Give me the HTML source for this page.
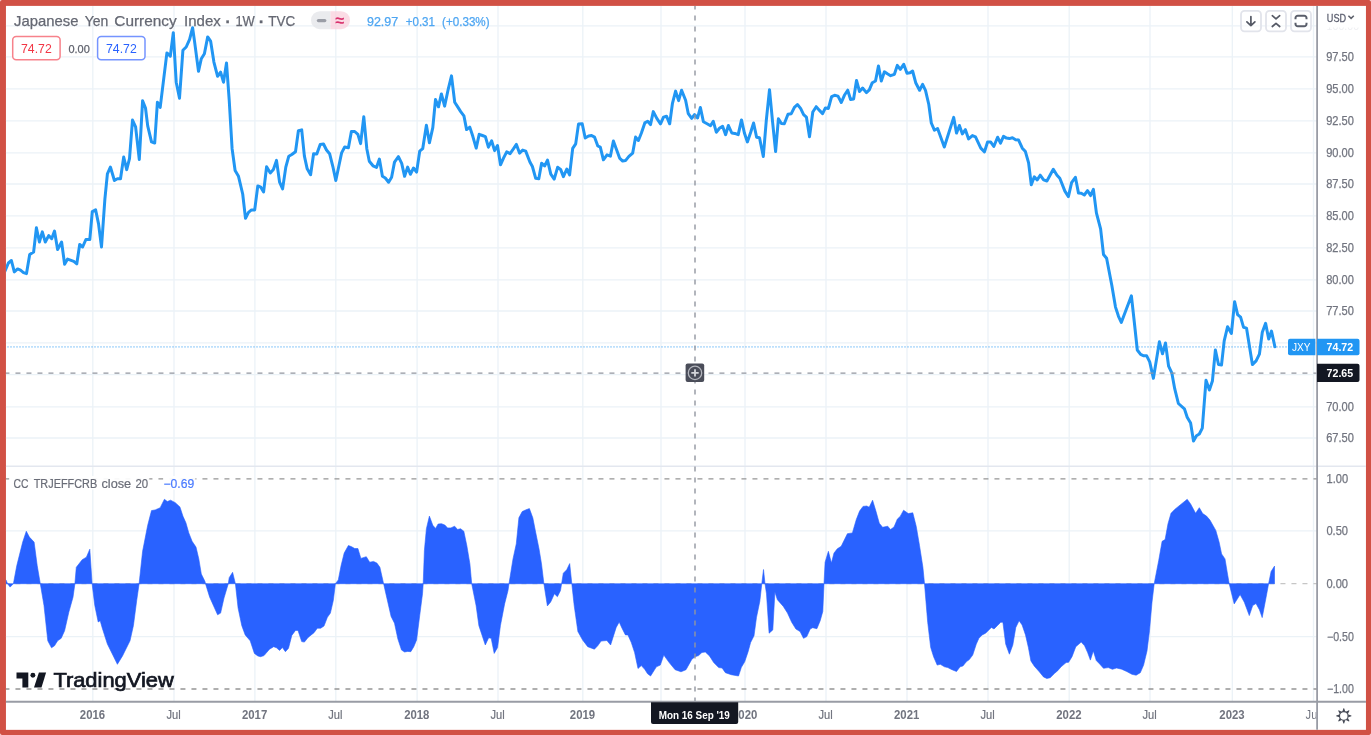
<!DOCTYPE html>
<html lang="en"><head><meta charset="utf-8"><title>Japanese Yen Currency Index</title>
<style>html,body{margin:0;padding:0;background:#fff;width:1371px;height:735px;overflow:hidden}</style>
</head><body>
<svg width="1371" height="735" viewBox="0 0 1371 735" style="display:block;font-family:'Liberation Sans', sans-serif">
<rect x="0" y="0" width="1371" height="735" rx="2" ry="2" fill="#d15145"/>
<rect x="5.95" y="5.9" width="1360.0" height="723.95" fill="#fff"/>
<g stroke="#ebf2f7" stroke-width="1.3" fill="none">
<line x1="92.8" y1="5.9" x2="92.8" y2="701.8"/>
<line x1="174" y1="5.9" x2="174" y2="701.8"/>
<line x1="254.9" y1="5.9" x2="254.9" y2="701.8"/>
<line x1="335.8" y1="5.9" x2="335.8" y2="701.8"/>
<line x1="417.1" y1="5.9" x2="417.1" y2="701.8"/>
<line x1="498" y1="5.9" x2="498" y2="701.8"/>
<line x1="582.8" y1="5.9" x2="582.8" y2="701.8"/>
<line x1="661" y1="5.9" x2="661" y2="701.8"/>
<line x1="745" y1="5.9" x2="745" y2="701.8"/>
<line x1="826" y1="5.9" x2="826" y2="701.8"/>
<line x1="907" y1="5.9" x2="907" y2="701.8"/>
<line x1="988" y1="5.9" x2="988" y2="701.8"/>
<line x1="1069.2" y1="5.9" x2="1069.2" y2="701.8"/>
<line x1="1150" y1="5.9" x2="1150" y2="701.8"/>
<line x1="1232.3" y1="5.9" x2="1232.3" y2="701.8"/>
<line x1="1313.5" y1="5.9" x2="1313.5" y2="701.8"/>
<line x1="5.95" y1="25.9" x2="1317.1" y2="25.9"/>
<line x1="5.95" y1="56.8" x2="1317.1" y2="56.8"/>
<line x1="5.95" y1="88.8" x2="1317.1" y2="88.8"/>
<line x1="5.95" y1="120.9" x2="1317.1" y2="120.9"/>
<line x1="5.95" y1="152.8" x2="1317.1" y2="152.8"/>
<line x1="5.95" y1="184.0" x2="1317.1" y2="184.0"/>
<line x1="5.95" y1="215.8" x2="1317.1" y2="215.8"/>
<line x1="5.95" y1="247.8" x2="1317.1" y2="247.8"/>
<line x1="5.95" y1="279.9" x2="1317.1" y2="279.9"/>
<line x1="5.95" y1="311.0" x2="1317.1" y2="311.0"/>
<line x1="5.95" y1="342.9" x2="1317.1" y2="342.9"/>
<line x1="5.95" y1="374.7" x2="1317.1" y2="374.7"/>
<line x1="5.95" y1="406.9" x2="1317.1" y2="406.9"/>
<line x1="5.95" y1="438.0" x2="1317.1" y2="438.0"/>
<line x1="5.95" y1="530.9" x2="1317.1" y2="530.9"/>
<line x1="5.95" y1="636.6" x2="1317.1" y2="636.6"/>
</g>
<line x1="5.95" y1="466.3" x2="1365.95" y2="466.3" stroke="#e3e7ef" stroke-width="1.4"/>
<g stroke="#959595" stroke-width="1.35" stroke-dasharray="5 6" stroke-dashoffset="1.5" fill="none">
<line x1="5.95" y1="478.8" x2="1317.1" y2="478.8"/>
<line x1="5.95" y1="689" x2="1317.1" y2="689"/>
</g>
<line x1="5.95" y1="583.7" x2="1317.1" y2="583.7" stroke="#c6c6c6" stroke-width="1.3" stroke-dasharray="5 6" stroke-dashoffset="1.5"/>
<clipPath id="pane"><rect x="5.95" y="5.9" width="1311.1499999999999" height="695.9"/></clipPath>
<path clip-path="url(#pane)" d="M2.95,583.7 L2.95,577 L6.0,579.9 L7.6,583.7 L10.1,587.1 L13.4,583.7 L16.8,565.6 L22.7,542.1 L26.3,531.2 L29.4,537.1 L34.1,542.1 L37.2,565.6 L40.3,583.7 L44.0,605.6 L47.8,640.8 L51.5,647.8 L54.5,645.8 L57.6,640.8 L61.2,638.3 L64.6,630.7 L68.8,612.3 L73.0,597.2 L74.9,583.7 L76.3,567.3 L82.2,559.7 L86.4,557.2 L89.8,549.2 L92.1,583.7 L94.8,605.6 L98.2,622.0 L100.2,620.7 L102.3,628.2 L107.4,644.1 L117.4,664.3 L122.5,655.9 L130.0,640.8 L133.4,625.7 L136.7,600.5 L139.1,583.7 L142.6,551.3 L147.7,525.3 L151.5,510.6 L155.2,509.9 L160.2,507.7 L164.4,499.3 L167.3,501.5 L170.6,500.2 L175.3,502.7 L179.9,506.9 L182.9,516.1 L185.9,522.8 L188.8,532.9 L192.1,541.3 L196.0,547.1 L198.8,558.9 L201.3,574.0 L205.0,581.5 L205.5,583.7 L209.7,597.2 L217.6,614.8 L220.6,613.1 L224.0,598.0 L226.7,589.0 L228.3,583.7 L229.2,577.7 L232.6,572.3 L235.4,583.7 L238.1,608.1 L241.8,625.7 L245.2,634.9 L250.2,640.8 L254.4,653.4 L257.8,655.9 L260.6,656.7 L264.0,655.6 L269.5,649.2 L273.7,646.7 L276.5,647.8 L279.6,650.4 L282.4,647.5 L285.4,651.7 L288.5,648.3 L291.8,635.4 L295.5,630.4 L298.0,630.4 L301.7,641.6 L304.4,642.1 L308.1,637.4 L314.0,632.7 L317.3,628.2 L320.7,628.2 L324.0,626.0 L327.4,617.3 L330.4,613.1 L333.3,600.5 L335.4,583.7 L338.3,579.9 L341.1,565.6 L344.2,553.0 L348.4,545.5 L351.7,546.8 L354.7,548.5 L357.9,548.5 L360.9,558.4 L366.3,556.7 L369.7,562.2 L373.5,561.4 L376.9,563.1 L379.9,567.3 L383.6,583.7 L391.1,616.5 L394.5,623.2 L397.9,639.1 L401.5,650.0 L404.6,652.0 L407.6,651.4 L410.8,651.7 L413.8,646.7 L416.6,640.0 L419.7,615.6 L422.5,593.8 L423.2,583.7 L424.4,550.5 L426.4,528.7 L429.4,516.1 L432.8,525.3 L435.6,528.4 L438.1,524.0 L441.5,523.7 L444.8,525.0 L447.6,527.9 L450.9,527.9 L454.6,526.2 L457.6,529.5 L460.5,528.7 L463.8,531.2 L466.8,545.5 L469.9,563.9 L471.7,583.7 L476.1,605.6 L478.9,625.7 L485.3,645.0 L488.7,637.8 L491.2,638.3 L494.2,653.4 L497.6,647.5 L500.4,625.7 L504.6,603.9 L508.0,590.5 L509.0,583.7 L513.0,558.9 L516.3,543.8 L518.9,517.8 L522.2,511.6 L525.6,509.9 L529.4,508.6 L532.8,517.8 L535.6,532.0 L539.0,548.8 L541.5,563.9 L543.9,583.7 L547.4,605.9 L550.7,601.9 L554.4,593.8 L557.4,596.7 L560.5,590.5 L561.6,583.7 L563.3,573.2 L566.7,569.8 L569.7,563.6 L571.8,583.7 L574.2,605.6 L577.9,631.6 L582.6,640.0 L587.7,646.7 L594.4,649.2 L597.7,645.8 L601.1,641.1 L606.9,640.5 L610.6,645.0 L616.2,627.4 L619.2,622.0 L622.0,628.2 L625.4,634.9 L627.9,634.9 L631.3,642.5 L634.6,652.5 L638.0,668.5 L641.3,665.6 L644.7,669.3 L647.6,673.8 L650.6,676.0 L656.4,666.8 L660.3,665.1 L663.8,655.1 L669.2,662.6 L675.1,669.7 L681.0,671.8 L686.0,669.7 L691.9,659.2 L695.2,656.7 L698.6,655.6 L701.9,652.5 L705.3,652.0 L709.5,655.9 L713.7,662.6 L718.7,667.6 L722.1,668.0 L725.4,672.7 L731.3,674.7 L738.5,676.0 L741.4,667.3 L744.7,661.8 L748.1,651.7 L750.6,642.5 L754.0,635.8 L756.5,617.3 L759.8,601.4 L761.8,583.7 L763.5,569.5 L765.0,583.7 L766.5,593.8 L769.1,633.2 L772.8,629.9 L774.9,592.1 L777.4,599.7 L783.3,606.4 L787.5,613.1 L791.7,622.3 L795.9,629.0 L800.1,631.6 L803.5,638.3 L806.8,636.6 L810.2,629.0 L812.7,627.7 L816.9,628.7 L820.2,620.7 L822.8,611.4 L824.0,583.7 L825.1,562.2 L828.4,551.3 L831.4,563.1 L834.0,553.0 L837.3,548.8 L841.2,546.3 L847.4,533.7 L852.4,532.9 L856.3,519.5 L859.6,511.1 L863.0,506.4 L866.7,506.0 L869.2,507.2 L872.6,500.2 L875.9,511.1 L879.3,523.2 L882.6,527.3 L887.7,526.2 L890.5,529.5 L894.0,527.0 L897.4,519.0 L900.2,516.4 L903.6,510.2 L908.3,513.6 L912.8,512.8 L916.2,526.2 L919.5,545.5 L922.9,567.3 L924.5,583.7 L927.7,622.3 L930.7,647.5 L933.6,656.7 L937.2,665.1 L940.3,664.3 L944.5,666.8 L947.8,667.6 L952.0,669.7 L956.5,671.5 L960.1,666.8 L962.9,666.0 L966.3,661.8 L969.3,659.6 L972.7,655.1 L976.3,644.1 L978.9,638.3 L982.2,634.9 L985.6,633.2 L991.4,627.4 L994.0,629.0 L997.3,625.7 L1000.7,622.3 L1002.9,622.3 L1005.7,644.1 L1009.4,654.2 L1012.8,645.0 L1015.8,627.4 L1019.1,620.7 L1022.1,624.9 L1025.5,634.9 L1028.4,647.5 L1030.9,660.9 L1034.2,666.0 L1039.3,671.8 L1043.5,676.9 L1046.8,678.5 L1050.2,677.7 L1054.4,673.5 L1057.7,670.7 L1061.1,666.8 L1066.1,662.6 L1068.6,662.3 L1072.0,656.7 L1075.8,646.7 L1081.2,642.1 L1084.6,645.8 L1087.6,652.5 L1090.4,660.1 L1093.3,650.9 L1096.3,660.6 L1099.7,664.0 L1103.5,668.3 L1108.3,667.6 L1112.4,669.3 L1116.6,668.0 L1121.7,669.2 L1126.7,671.5 L1131.9,674.3 L1136.1,675.2 L1140.3,672.7 L1143.6,665.1 L1147.0,650.9 L1149.5,630.7 L1152.0,602.2 L1154.2,583.7 L1158.7,560.6 L1162.1,541.3 L1165.1,539.6 L1168.0,523.7 L1171.0,513.3 L1174.7,509.4 L1187.2,499.3 L1190.6,503.9 L1195.6,513.3 L1199.3,507.7 L1202.7,513.6 L1206.5,516.1 L1209.9,520.0 L1215.8,530.4 L1219.1,542.1 L1221.6,553.9 L1225.0,558.9 L1227.5,574.0 L1229.2,583.7 L1234.2,603.9 L1240.1,594.6 L1244.3,602.2 L1249.3,615.6 L1252.7,605.6 L1256.0,603.5 L1259.4,609.7 L1262.2,617.6 L1266.1,597.2 L1268.6,583.7 L1271.1,571.5 L1274.5,566.1 L1274.5,583.7 Z" fill="#2962ff" stroke="#2962ff" stroke-width="0.6" stroke-linejoin="round"/>
<line x1="7.3" y1="346.95" x2="1288" y2="346.95" stroke="#2196f3" stroke-opacity="0.42" stroke-width="1.7" stroke-dasharray="1.4 1.6"/>
<polyline clip-path="url(#pane)" points="2.8,276.2 5.9,268.9 8.4,263.0 11.4,260.5 14.3,271.9 17.6,268.9 20.5,270.2 23.5,272.6 26.5,273.6 29.7,254.6 33.6,252.1 36.4,227.8 39.4,242.0 42.3,231.9 45.3,242.0 48.7,235.6 51.7,238.7 54.5,231.1 57.6,249.6 61.6,242.0 64.6,264.2 67.6,259.1 73.8,261.3 76.8,263.8 79.7,244.5 82.6,247.0 85.9,239.5 89.8,239.5 92.3,211.5 95.6,209.8 98.5,223.6 101.5,247.0 104.9,198.9 107.4,173.8 110.4,167.0 114.4,180.5 117.4,178.8 120.5,178.8 123.7,157.0 126.7,169.6 129.5,158.7 132.5,120.1 135.6,126.8 139.3,159.5 142.6,100.7 145.5,108.0 147.7,125.9 151.5,141.9 154.7,143.0 157.4,102.3 160.2,107.4 166.9,52.9 170.3,56.2 173.3,32.7 176.2,82.2 179.5,98.2 182.9,50.3 186.2,47.0 189.6,39.4 192.6,27.7 194.6,41.9 198.5,71.3 201.3,58.7 204.4,53.7 207.7,36.9 210.6,41.1 213.9,62.1 217.6,76.3 220.6,72.1 223.5,82.2 226.5,62.9 229.2,100.0 232.1,148.7 235.1,170.5 238.5,176.3 242.7,194.0 245.5,218.3 248.5,212.4 251.5,209.9 254.7,209.9 257.8,185.9 260.8,187.2 263.6,191.9 266.6,166.8 270.3,173.0 273.4,169.6 276.5,160.4 279.6,182.2 282.6,188.9 285.8,167.1 288.8,156.2 291.8,154.5 295.5,151.7 298.4,130.7 301.7,129.9 304.4,156.2 307.2,168.8 310.6,174.7 313.6,153.7 316.8,154.0 320.2,144.5 323.5,144.0 326.5,150.0 329.6,153.7 332.8,166.3 335.8,180.5 338.8,166.3 341.6,152.9 344.7,147.0 348.4,147.8 351.4,131.5 354.7,131.5 357.9,134.4 360.6,143.6 363.8,116.8 366.8,148.7 369.3,161.2 373.0,165.8 376.5,167.4 379.4,159.1 382.4,176.3 385.3,178.0 388.6,182.2 391.6,177.2 394.5,162.1 398.4,156.7 401.7,163.4 404.6,176.3 407.6,167.1 410.4,174.3 413.5,168.0 416.6,172.1 419.7,151.2 422.7,148.7 426.4,125.2 429.4,142.8 432.8,127.7 435.5,99.6 438.5,106.8 441.4,93.9 444.6,106.1 448.0,90.2 451.5,75.9 454.7,102.2 457.7,106.9 460.7,111.6 463.9,115.8 466.6,129.6 469.8,127.1 472.8,136.3 476.2,148.1 479.2,134.3 482.4,135.5 485.4,136.6 488.4,147.2 491.6,140.8 494.6,150.6 497.5,145.5 500.5,164.8 503.5,158.1 506.7,151.9 510.1,153.6 513.4,148.9 516.4,144.4 519.5,153.1 522.7,150.1 525.7,151.1 529.9,162.0 532.4,166.5 535.7,178.3 538.8,178.8 541.6,163.2 544.6,166.0 547.5,160.1 550.8,174.1 554.2,179.1 557.6,167.3 560.6,169.4 563.4,176.6 566.8,169.0 569.6,174.9 572.7,148.4 575.7,143.9 578.5,124.1 582.2,123.7 585.2,138.0 588.6,136.0 591.6,135.5 594.5,137.1 597.8,146.0 600.3,147.2 603.4,159.8 607.0,154.8 610.4,156.1 613.4,141.0 616.3,148.9 619.6,158.1 622.7,161.1 625.5,160.6 628.9,156.4 632.7,153.1 635.6,137.1 638.4,140.5 641.4,133.0 644.8,122.9 647.7,121.2 650.5,124.6 653.3,111.6 656.8,118.4 660.5,123.8 663.5,117.1 666.5,116.2 669.7,123.8 672.4,103.7 675.6,91.1 678.6,100.6 681.6,90.2 685.6,100.3 688.3,113.7 691.7,118.4 694.5,114.6 697.6,117.9 700.4,107.5 703.4,121.8 707.1,123.8 710.5,125.8 713.3,121.3 716.3,132.2 719.7,128.0 722.6,126.3 725.6,134.7 728.4,125.5 731.8,133.0 734.8,133.4 738.2,134.7 741.5,119.9 744.4,133.0 747.4,141.9 750.7,132.2 753.6,123.0 756.6,137.2 759.5,137.7 763.3,156.5 766.3,120.4 769.5,89.7 772.6,122.1 775.6,151.5 778.4,118.8 781.4,123.5 784.3,123.8 788.0,114.2 791.3,113.7 794.4,107.3 797.4,104.5 800.6,108.4 803.6,114.6 806.4,117.1 809.5,136.7 812.8,112.0 816.2,106.7 819.5,110.4 822.6,113.7 825.4,107.9 828.4,108.4 831.6,96.6 834.6,95.3 838.0,96.1 841.3,102.5 844.4,95.3 847.7,90.2 850.6,99.5 853.6,99.0 856.5,80.4 859.5,91.5 862.6,88.0 866.4,92.6 869.3,89.9 872.3,82.7 875.5,81.0 878.5,65.9 881.3,81.0 884.4,71.8 887.4,73.8 890.6,75.7 894.4,74.3 897.3,65.4 900.3,69.3 903.7,64.3 907.0,73.2 910.0,72.7 912.6,71.0 915.7,82.7 919.6,90.3 922.6,84.4 925.5,90.3 928.8,104.5 931.3,123.0 934.4,130.2 937.6,128.5 944.3,147.0 953.7,117.4 956.5,133.1 959.4,125.5 962.4,133.9 965.4,129.7 968.6,138.9 972.4,135.6 975.5,136.9 980.8,148.2 984.5,151.8 987.6,141.9 990.6,141.9 993.8,146.5 997.6,137.2 1000.5,143.1 1003.5,136.4 1006.5,138.1 1009.4,138.6 1012.4,137.8 1015.6,139.8 1018.6,140.1 1022.3,148.2 1025.4,151.6 1028.6,162.9 1031.3,184.7 1034.3,176.8 1037.2,179.9 1040.2,175.2 1043.6,179.9 1046.9,181.0 1053.3,169.3 1057.0,175.2 1059.8,178.2 1064.9,191.1 1068.4,196.6 1071.6,182.7 1075.4,177.3 1078.5,193.1 1081.3,193.3 1084.3,195.0 1087.5,190.6 1090.5,195.6 1093.4,189.4 1096.4,212.9 1100.6,228.9 1103.5,254.5 1106.6,258.3 1111.8,285.3 1115.5,307.1 1118.5,316.3 1121.3,322.5 1131.4,295.8 1134.4,323.0 1137.3,350.0 1140.6,354.4 1143.8,355.8 1146.7,355.8 1149.7,361.8 1153.4,378.3 1159.4,341.8 1162.5,353.8 1165.5,343.0 1168.6,366.2 1171.8,372.8 1174.7,388.7 1178.4,403.5 1184.4,408.8 1187.2,417.2 1190.6,423.1 1193.5,441.0 1196.5,435.7 1199.3,434.0 1202.3,428.1 1206.0,380.3 1209.4,390.0 1212.4,381.1 1215.4,350.0 1218.5,364.5 1221.5,365.0 1224.2,340.8 1227.6,326.7 1231.4,333.4 1234.6,301.7 1237.6,314.6 1240.6,317.1 1243.5,327.2 1246.5,328.1 1252.4,364.6 1256.1,360.9 1259.4,354.2 1262.3,332.2 1265.6,323.4 1268.7,339.0 1271.5,331.1 1274.9,346.8" fill="none" stroke="#2196f3" stroke-width="3.0" stroke-linejoin="round" stroke-linecap="round"/>
<g stroke="#9296a0" stroke-width="1.4" stroke-dasharray="5 6" stroke-dashoffset="1.5" fill="none">
<line x1="5.95" y1="373.1" x2="1317.1" y2="373.1"/>
<line x1="695" y1="5.9" x2="695" y2="701.8"/>
</g>
<rect x="685.6" y="363.6" width="18.6" height="18.5" rx="2" fill="#4a4d59"/>
<circle cx="695" cy="372.9" r="6.7" fill="none" stroke="#b4b6bd" stroke-width="1.25"/>
<path d="M691.3 372.9h7.4M695 369.2v7.4" stroke="#d4d5da" stroke-width="1.8" fill="none"/>
<line x1="1317.1" y1="5.9" x2="1317.1" y2="729.85" stroke="#999ca5" stroke-width="1.8"/>
<line x1="5.95" y1="701.8" x2="1365.95" y2="701.8" stroke="#999ca5" stroke-width="1.9"/>
<g font-size="12" fill="#71747f" stroke="#71747f" stroke-width="0.25">
<text x="1326.2" y="60.8" textLength="27.7" lengthAdjust="spacingAndGlyphs">97.50</text>
<text x="1326.2" y="92.8" textLength="27.7" lengthAdjust="spacingAndGlyphs">95.00</text>
<text x="1326.2" y="124.9" textLength="27.7" lengthAdjust="spacingAndGlyphs">92.50</text>
<text x="1326.2" y="156.8" textLength="27.7" lengthAdjust="spacingAndGlyphs">90.00</text>
<text x="1326.2" y="187.9" textLength="27.7" lengthAdjust="spacingAndGlyphs">87.50</text>
<text x="1326.2" y="219.8" textLength="27.7" lengthAdjust="spacingAndGlyphs">85.00</text>
<text x="1326.2" y="251.8" textLength="27.7" lengthAdjust="spacingAndGlyphs">82.50</text>
<text x="1326.2" y="283.8" textLength="27.7" lengthAdjust="spacingAndGlyphs">80.00</text>
<text x="1326.2" y="314.9" textLength="27.7" lengthAdjust="spacingAndGlyphs">77.50</text>
<text x="1326.2" y="410.8" textLength="27.7" lengthAdjust="spacingAndGlyphs">70.00</text>
<text x="1326.2" y="441.9" textLength="27.7" lengthAdjust="spacingAndGlyphs">67.50</text>
<text x="1326.6" y="482.8" textLength="21.6" lengthAdjust="spacingAndGlyphs">1.00</text>
<text x="1326.4" y="534.9" textLength="21.6" lengthAdjust="spacingAndGlyphs">0.50</text>
<text x="1326.4" y="587.7" textLength="21.6" lengthAdjust="spacingAndGlyphs">0.00</text>
<text x="1327" y="640.6" textLength="26.9" lengthAdjust="spacingAndGlyphs">−0.50</text>
<text x="1327" y="693.0" textLength="26.9" lengthAdjust="spacingAndGlyphs">−1.00</text>
</g>
<text x="1326.8" y="21.7" font-size="11.5" fill="#5d6070" stroke="#5d6070" stroke-width="0.3" textLength="19.3" lengthAdjust="spacingAndGlyphs">USD</text>
<path d="M1348.4 15.7l2.7 2.7l2.7-2.7" fill="none" stroke="#5d606b" stroke-width="1.5"/>
<clipPath id="c100"><rect x="1320" y="27.5" width="44" height="2.6"/></clipPath>
<text x="1326.6" y="29.9" font-size="11" fill="#eeeff2" clip-path="url(#c100)" textLength="32.5" lengthAdjust="spacingAndGlyphs">100.00</text>
<path d="M1290 338.7h25.4v16.6h-25.4a2 2 0 0 1-2-2v-12.6a2 2 0 0 1 2-2z" fill="#2196f3"/>
<path d="M1317 338.7h40.5a2 2 0 0 1 2 2v12.6a2 2 0 0 1-2 2h-40.5z" fill="#2196f3"/>
<text x="1292" y="351" font-size="11" fill="#fff" textLength="18.5" lengthAdjust="spacingAndGlyphs">JXY</text>
<text x="1326.6" y="351" font-size="11" font-weight="bold" fill="#fff" textLength="26.6" lengthAdjust="spacingAndGlyphs">74.72</text>
<path d="M1317 363.7h40.5a2 2 0 0 1 2 2v14.4a2 2 0 0 1-2 2h-40.5z" fill="#131722"/>
<text x="1326.6" y="376.9" font-size="11" font-weight="bold" fill="#fff" textLength="26.6" lengthAdjust="spacingAndGlyphs">72.65</text>
<g font-size="12" fill="#71747f" text-anchor="middle">
<text x="92.5" y="718.6" font-weight="bold" textLength="25.3" lengthAdjust="spacingAndGlyphs">2016</text>
<text x="173.6" y="718.6" textLength="14.2" lengthAdjust="spacingAndGlyphs" stroke="#71747f" stroke-width="0.2">Jul</text>
<text x="254.6" y="718.6" font-weight="bold" textLength="25.3" lengthAdjust="spacingAndGlyphs">2017</text>
<text x="335.4" y="718.6" textLength="14.2" lengthAdjust="spacingAndGlyphs" stroke="#71747f" stroke-width="0.2">Jul</text>
<text x="416.8" y="718.6" font-weight="bold" textLength="25.3" lengthAdjust="spacingAndGlyphs">2018</text>
<text x="497.6" y="718.6" textLength="14.2" lengthAdjust="spacingAndGlyphs" stroke="#71747f" stroke-width="0.2">Jul</text>
<text x="582.5" y="718.6" font-weight="bold" textLength="25.3" lengthAdjust="spacingAndGlyphs">2019</text>
<text x="744.7" y="718.6" font-weight="bold" textLength="25.3" lengthAdjust="spacingAndGlyphs">2020</text>
<text x="825.6" y="718.6" textLength="14.2" lengthAdjust="spacingAndGlyphs" stroke="#71747f" stroke-width="0.2">Jul</text>
<text x="906.7" y="718.6" font-weight="bold" textLength="25.3" lengthAdjust="spacingAndGlyphs">2021</text>
<text x="987.6" y="718.6" textLength="14.2" lengthAdjust="spacingAndGlyphs" stroke="#71747f" stroke-width="0.2">Jul</text>
<text x="1068.9" y="718.6" font-weight="bold" textLength="25.3" lengthAdjust="spacingAndGlyphs">2022</text>
<text x="1149.6" y="718.6" textLength="14.2" lengthAdjust="spacingAndGlyphs" stroke="#71747f" stroke-width="0.2">Jul</text>
<text x="1232.0" y="718.6" font-weight="bold" textLength="25.3" lengthAdjust="spacingAndGlyphs">2023</text>
</g>
<clipPath id="cj"><rect x="1290" y="704" width="26.2" height="24"/></clipPath>
<text x="1305.6" y="718.6" font-size="12" fill="#71747f" clip-path="url(#cj)" textLength="14.2" lengthAdjust="spacingAndGlyphs">Jul</text>
<path d="M651 702.3h87.2v19.6a2 2 0 0 1-2 2h-83.2a2 2 0 0 1-2-2z" fill="#131722"/>
<text x="694.3" y="718.8" font-size="10.5" font-weight="bold" fill="#fff" text-anchor="middle" textLength="71" lengthAdjust="spacingAndGlyphs">Mon 16 Sep '19</text>
<g transform="translate(1343.8 715.9)">
<circle r="4.3" fill="none" stroke="#454955" stroke-width="1.15"/>
<path d="M-1.45-4.4L-0.35-7.6h0.7L1.45-4.4z" fill="#454955" transform="rotate(0)"/>
<path d="M-1.45-4.4L-0.35-7.6h0.7L1.45-4.4z" fill="#454955" transform="rotate(45)"/>
<path d="M-1.45-4.4L-0.35-7.6h0.7L1.45-4.4z" fill="#454955" transform="rotate(90)"/>
<path d="M-1.45-4.4L-0.35-7.6h0.7L1.45-4.4z" fill="#454955" transform="rotate(135)"/>
<path d="M-1.45-4.4L-0.35-7.6h0.7L1.45-4.4z" fill="#454955" transform="rotate(180)"/>
<path d="M-1.45-4.4L-0.35-7.6h0.7L1.45-4.4z" fill="#454955" transform="rotate(225)"/>
<path d="M-1.45-4.4L-0.35-7.6h0.7L1.45-4.4z" fill="#454955" transform="rotate(270)"/>
<path d="M-1.45-4.4L-0.35-7.6h0.7L1.45-4.4z" fill="#454955" transform="rotate(315)"/>
</g>
<rect x="1241" y="10.9" width="20" height="20.4" rx="3.5" fill="#fff" fill-opacity="0.55" stroke="#e2e4eb" stroke-width="1.8"/>
<rect x="1266" y="10.9" width="20" height="20.4" rx="3.5" fill="#fff" fill-opacity="0.55" stroke="#e2e4eb" stroke-width="1.8"/>
<rect x="1291" y="10.9" width="20" height="20.4" rx="3.5" fill="#fff" fill-opacity="0.55" stroke="#e2e4eb" stroke-width="1.8"/>
<g fill="none" stroke="#545864" stroke-width="1.7" stroke-linecap="round" stroke-linejoin="round">
<path d="M1250.9 16.6v9M1246.9 21.8l4 3.9l4-3.9"/>
<path d="M1272.3 15.7l3.7 3.1l3.7-3.1M1272.3 26.5l3.7-3.1l3.7 3.1"/>
<path d="M1295.5 19.3v-1.3a2.3 2.3 0 0 1 2.3-2.3h6.4a2.3 2.3 0 0 1 2.3 2.3v1.3M1295.5 22.7v1.3a2.3 2.3 0 0 0 2.3 2.3h6.4a2.3 2.3 0 0 0 2.3-2.3v-1.3" stroke-width="2" stroke="#5a5e6a" stroke-linecap="butt"/>
</g>
<g font-size="15" fill="#656873" stroke="#656873" stroke-width="0.25" lengthAdjust="spacingAndGlyphs">
<text x="14.1" y="26.4" textLength="64.4" lengthAdjust="spacingAndGlyphs">Japanese</text>
<text x="84.8" y="26.4" textLength="23.6" lengthAdjust="spacingAndGlyphs">Yen</text>
<text x="114.3" y="26.4" textLength="62.4" lengthAdjust="spacingAndGlyphs">Currency</text>
<text x="184.1" y="26.4" textLength="36.7" lengthAdjust="spacingAndGlyphs">Index</text>
<text x="235.4" y="26.4" textLength="19.4" lengthAdjust="spacingAndGlyphs">1W</text>
<text x="268.2" y="26.4" textLength="26.9" lengthAdjust="spacingAndGlyphs">TVC</text>
<text x="228" y="26.6" text-anchor="middle" font-weight="bold" font-size="17">·</text><text x="261.7" y="26.6" text-anchor="middle" font-weight="bold" font-size="17">·</text>
</g>
<path d="M320 11.2h10.5v18h-10.5a9 9 0 0 1 0-18z" fill="#e4e5e9" fill-opacity="0.78"/>
<path d="M330.5 11.2h10.5a9 9 0 0 1 0 18h-10.5z" fill="#f9cfdb" fill-opacity="0.72"/>
<rect x="316.8" y="19" width="9.6" height="3.2" rx="1.6" fill="#9a9da6"/>
<text x="339.5" y="25.6" font-size="16.5" font-weight="bold" fill="#d9326e" text-anchor="middle">≈</text>
<g font-size="12" fill="#4ea6f2" stroke="#4ea6f2" stroke-width="0.25">
<text x="367" y="26.2" textLength="31.2" lengthAdjust="spacingAndGlyphs">92.97</text>
<text x="405.7" y="26.2" textLength="29.3" lengthAdjust="spacingAndGlyphs">+0.31</text>
<text x="442" y="26.2" textLength="47.6" lengthAdjust="spacingAndGlyphs">(+0.33%)</text>
</g>
<rect x="12.7" y="36.6" width="47.4" height="23.2" rx="3.5" fill="#fff" stroke="#f7828b" stroke-width="1.5"/>
<text x="21" y="53.4" font-size="12.5" fill="#f23645" textLength="30.7" lengthAdjust="spacingAndGlyphs">74.72</text>
<text x="68.5" y="53.2" font-size="11.5" fill="#5f626d" stroke="#5f626d" stroke-width="0.25" textLength="21.3" lengthAdjust="spacingAndGlyphs">0.00</text>
<rect x="97.6" y="36.6" width="47.4" height="23.2" rx="3.5" fill="#fff" stroke="#7594ff" stroke-width="1.5"/>
<text x="106" y="53.4" font-size="12.5" fill="#2962ff" textLength="30.7" lengthAdjust="spacingAndGlyphs">74.72</text>
<rect x="9.3" y="476" width="140" height="13.5" fill="#fff" fill-opacity="0.92"/>
<rect x="163.2" y="476" width="32.2" height="13.5" fill="#fff" fill-opacity="0.92"/>
<g font-size="12" fill="#6a6d78" stroke="#6a6d78" stroke-width="0.2">
<text x="13.6" y="487.5" textLength="15" lengthAdjust="spacingAndGlyphs">CC</text>
<text x="33.7" y="487.5" textLength="63.5" lengthAdjust="spacingAndGlyphs">TRJEFFCRB</text>
<text x="101.5" y="487.5" textLength="29.7" lengthAdjust="spacingAndGlyphs">close</text>
<text x="135.5" y="487.5" textLength="12.7" lengthAdjust="spacingAndGlyphs">20</text>
</g>
<text x="163.5" y="487.5" font-size="12" fill="#4a7bff" stroke="#4a7bff" stroke-width="0.2" textLength="30.7" lengthAdjust="spacingAndGlyphs">−0.69</text>
<g fill="#131722">
<path d="M16.5 672.5H28.3V687.4H22.4V678.4H16.5Z"/>
<circle cx="32.9" cy="675.3" r="2.45"/>
<path d="M38.9 672.5H46.1L41.5 687.4H34Z"/>
<text x="53.4" y="687.4" font-size="20.4" stroke="#131722" stroke-width="0.7" textLength="120.3" lengthAdjust="spacingAndGlyphs">TradingView</text>
</g>
</svg>
</body></html>
